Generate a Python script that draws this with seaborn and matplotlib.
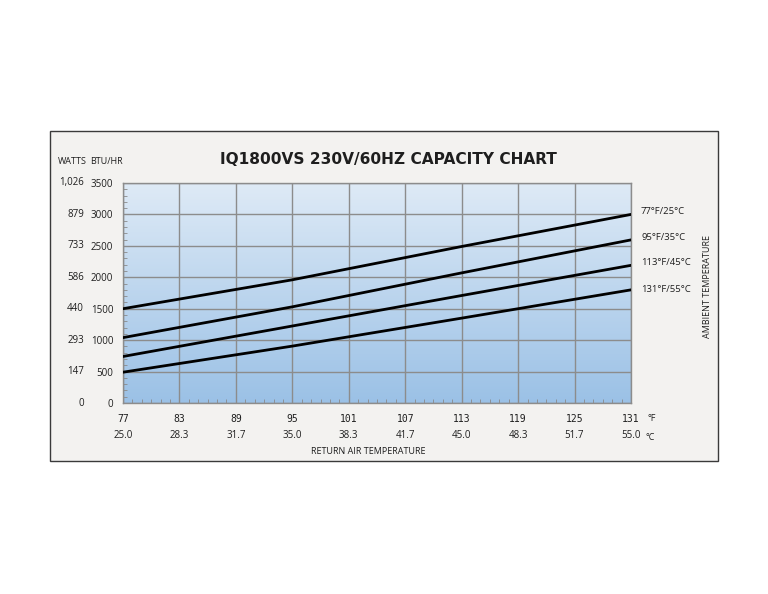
import matplotlib
matplotlib.use("Agg")
import numpy as np
import pandas as pd
import matplotlib.pyplot as plt
import matplotlib.transforms as mtransforms
from matplotlib.patches import Rectangle
from matplotlib.colors import LinearSegmentedColormap
from matplotlib.ticker import MultipleLocator
import seaborn as sns

# ── data ────────────────────────────────────────────────────
return_f = [77, 95, 113, 131]
cap_77f = [1500, 1960, 2490, 3000]
cap_95f = [1040, 1530, 2070, 2595]
cap_113f = [740, 1225, 1710, 2190]
cap_131f = [490, 905, 1350, 1800]
ambient_labels = ["77°F/25°C", "95°F/35°C", "113°F/45°C", "131°F/55°C"]

x_ticks_f = [77, 83, 89, 95, 101, 107, 113, 119, 125, 131]
x_ticks_c = ["25.0", "28.3", "31.7", "35.0", "38.3", "41.7", "45.0", "48.3", "51.7", "55.0"]
btu_ticks = [0, 500, 1000, 1500, 2000, 2500, 3000, 3500]
watt_labels = ["0", "147", "293", "440", "586", "733", "879", "1,026"]

rows = []
for lab, vals in zip(ambient_labels, [cap_77f, cap_95f, cap_113f, cap_131f]):
    for f, v in zip(return_f, vals):
        rows.append({"return_f": f, "btu": v, "ambient": lab})
df = pd.DataFrame(rows)

sns.set_theme(style="white")
plt.rcParams["font.family"] = ["Open Sans", "DejaVu Sans"]

TXT = "#1e1e1e"
W, H = 768, 594
fig = plt.figure(figsize=(W / 100, H / 100), dpi=100, facecolor="white")

# grey panel with dark frame
fig.patches.append(Rectangle((50 / W, 1 - 461 / H), 668 / W, 330 / H,
                             transform=fig.transFigure, facecolor="#f3f2f0",
                             edgecolor="#3a3a3a", lw=1.0, zorder=-10))

ax = fig.add_axes([123 / W, 1 - 403 / H, 508 / W, 220 / H])
ax.set_zorder(1)
ax.set_facecolor("none")

# blue vertical gradient in plot area
cmap = LinearSegmentedColormap.from_list("grad", ["#9bc1e6", "#deeaf6"])
ax.imshow(np.linspace(0, 1, 256).reshape(-1, 1), extent=[77, 131, 0, 3500],
          aspect="auto", cmap=cmap, origin="lower", zorder=0)

sns.lineplot(data=df, x="return_f", y="btu", hue="ambient",
             palette=["black"] * 4, legend=False, lw=2.0, ax=ax, zorder=3)

ax.set_xlim(77, 131)
ax.set_ylim(0, 3500)
ax.set_xticks(x_ticks_f)
ax.set_xticklabels([str(v) for v in x_ticks_f], family="DejaVu Sans Mono",
                   fontsize=7, color=TXT)
ax.set_yticks(btu_ticks)
ax.set_yticklabels([str(v) for v in btu_ticks], fontsize=7, color=TXT)
ax.xaxis.set_minor_locator(MultipleLocator(1))
ax.yaxis.set_minor_locator(MultipleLocator(100))
ax.tick_params(axis="both", which="major", length=0)
ax.tick_params(axis="x", which="major", pad=8)
ax.tick_params(axis="y", which="major", pad=7)
ax.tick_params(axis="both", which="minor", direction="in", length=3,
               width=0.6, color="#8a8a8a")
ax.tick_params(axis="x", which="minor", bottom=True)
ax.tick_params(axis="y", which="minor", left=True)
ax.grid(True, which="major", color="#8c8c8c", lw=1.0)
ax.set_xlabel("")
ax.set_ylabel("")
for s in ax.spines.values():
    s.set_visible(True)
    s.set_color("#8c8c8c")
    s.set_linewidth(1.0)

# watts column
ytr = mtransforms.blended_transform_factory(ax.transAxes, ax.transData)
for v, lab in zip(btu_ticks, watt_labels):
    ax.text(-39 / 508, v, lab, transform=ytr, ha="right", va="center",
            fontsize=7, color=TXT)

# celsius row
xtr = mtransforms.blended_transform_factory(ax.transData, ax.transAxes)
for v, lab in zip(x_ticks_f, x_ticks_c):
    ax.text(v, -33 / 220, lab, transform=xtr, ha="center", va="center",
            fontsize=7, color=TXT)
fig.text(647 / W, 1 - 421 / H, "°F", ha="left", va="baseline",
         fontsize=6.5, color=TXT)
fig.text(646 / W, 1 - 440 / H, "°C", ha="left", va="baseline",
         fontsize=6.5, color=TXT)

# line labels
label_y = [211, 237, 263, 289]
for lab, yy in zip(ambient_labels, label_y):
    fig.text(641 / W, 1 - yy / H, lab, ha="left", va="center",
             fontsize=6.8, color=TXT)

fig.text(708 / W, 1 - 287 / H, "AMBIENT TEMPERATURE", rotation=90,
         ha="center", va="center", fontsize=6.5, color=TXT)
fig.text(368 / W, 1 - 451 / H, "RETURN AIR TEMPERATURE", ha="center",
         va="center", fontsize=6.5, color=TXT)
fig.text(58 / W, 1 - 162 / H, "WATTS", ha="left", va="center",
         fontsize=6.5, color=TXT)
fig.text(90 / W, 1 - 162 / H, "BTU/HR", ha="left", va="center",
         fontsize=6.5, color=TXT)

fig.text(388 / W, 1 - 159 / H, "IQ1800VS 230V/60HZ CAPACITY CHART",
         ha="center", va="center", fontsize=11.1, fontweight="bold",
         family="DejaVu Sans", color=TXT)

fig.savefig("out.png", dpi=100, facecolor="white")
